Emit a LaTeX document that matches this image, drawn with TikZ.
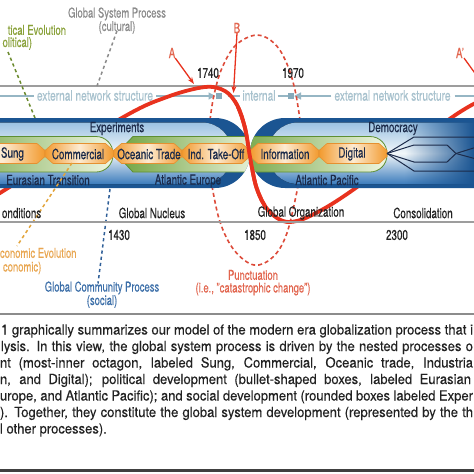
\documentclass[tikz,border=0pt]{standalone}
\usepackage{fontspec}
\setmainfont{TeX Gyre Heros}[FakeStretch=0.7, FakeBold=0.3]
\newfontfamily\capfont{TeX Gyre Heros}[FakeStretch=0.93, FakeBold=0.3]
\usetikzlibrary{arrows.meta,fadings}
\definecolor{bdark}{HTML}{1B5592}
\definecolor{bmid}{HTML}{9CC2E2}
\definecolor{bmidb}{HTML}{3C7CBC}
\definecolor{blight}{HTML}{F2F7FA}
\definecolor{gdark}{HTML}{6FA23E}
\definecolor{glight}{HTML}{EEF5E0}
\definecolor{gline}{HTML}{5E8F32}
\definecolor{oor}{HTML}{F29A2E}
\definecolor{ocr}{HTML}{FDEBD2}
\definecolor{oline}{HTML}{E59030}
\definecolor{navy}{HTML}{1C2B4A}
\definecolor{redA}{HTML}{E8321E}
\definecolor{redD}{HTML}{DD4B3A}
\definecolor{redT}{HTML}{E2654E}
\definecolor{netc}{HTML}{A8C2CE}
\definecolor{netl}{HTML}{96B6C4}
\definecolor{netsq}{HTML}{86AABB}
\definecolor{grayT}{HTML}{8C8C8C}
\definecolor{polc}{HTML}{8AA23A}
\definecolor{polline}{HTML}{6B8A2E}
\definecolor{ecoc}{HTML}{E9A650}
\definecolor{ecoline}{HTML}{E3A43A}
\definecolor{comc}{HTML}{3B6EA8}
\definecolor{comline}{HTML}{2F5F98}
\definecolor{txt}{HTML}{222222}
\tikzfading[name=fadeR, left color=transparent!100, right color=transparent!0]
\newcommand\myocta[3]{%
  \path[#3] (#1,150.5) -- ({#1+8},143.5) -- ({#2-8},143.5) -- (#2,150.5) -- (#2,156.5) -- ({#2-8},163.5) -- ({#1+8},163.5) -- (#1,156.5) -- cycle;}
\begin{document}
\begin{tikzpicture}[x=1pt,y=-1pt,
  every node/.style={inner sep=0pt, outer sep=0pt},
  bandlbl/.style={font=\fontsize{14}{15}\selectfont, text=navy},
  octlbl/.style={font=\fontsize{14}{15}\selectfont, text=navy},
  tl/.style={font=\fontsize{14}{15}\selectfont, text=txt},
  net/.style={font=\fontsize{14.5}{15}\selectfont, text=netc},
  netline/.style={draw=netl, line width=1.1pt},
  sq/.style={fill=netsq, minimum size=6pt},
  callout/.style={font=\fontsize{13.5}{15}\selectfont, align=center},
  cdash/.style={line width=1.5pt, dash pattern=on 3.2pt off 3pt},
  rdash/.style={draw=redD, line width=1.6pt, dash pattern=on 4pt off 3pt},
  redthick/.style={draw=redA, line width=3.8pt, line cap=round},
  redthin/.style={draw=redA, line width=1.3pt},
  fan/.style={draw=navy, line width=1pt, line join=round},
  captxt/.style={font=\capfont\fontsize{14}{16}\selectfont, text=txt, anchor=base west}]
\useasboundingbox (0,0) rectangle (474,474);
\clip (0,0) rectangle (474,474);
\fill[white] (0,0) rectangle (474,474);

% top line and network structure
\draw[grayT!85, line width=2.2pt] (0,86) -- (474,86);
\node[net] (ext1) at (95,95.5) {external network structure};
\node[net] (int) at (259,95.5) {internal};
\node[net] (ext2) at (392.5,95.5) {external network structure};
\node[sq] (s1) at (218.5,96) {};
\node[sq] (s2) at (291,96) {};
\coordinate (nL) at (0,96);
\coordinate (nR) at (474,96);
\coordinate (iL) at (228,96);
\draw[netline] (nL) -- ([xshift=-3pt]ext1.west |- nL);
\draw[netline, -{Triangle[length=7pt,width=7pt]}] ([xshift=3pt]ext1.east |- nL) -- (s1.west);
\draw[netline] (iL) -- ([xshift=-2pt]int.west |- iL);
\draw[netline] ([xshift=2pt]int.east |- iL) -- (s2.west);
\draw[netline, -{Triangle[length=7pt,width=7pt]}] ([xshift=-3pt]ext2.west |- nR) -- (s2.east);
\draw[netline] ([xshift=4pt]ext2.east |- nR) -- (nR);

% callouts (behind band)
\node[callout, text=grayT] (gsp1) at (117,14) {Global System Process};
\node[callout, text=grayT] (gsp2) at (117,27.5) {(cultural)};
\coordinate (gspE) at (97,86);
\draw[cdash, draw=grayT] ([yshift=3pt]gsp2.south) -- (gspE);
\node[callout, text=polc, anchor=east] (pol1) at (66,30) {tical Evolution};
\node[callout, text=polc, anchor=east] (pol2) at (32,43.5) {olitical)};
\coordinate (polS) at (8,52);
\coordinate (polE) at (35,118);
\draw[cdash, draw=polline] (polS) -- (polE);

% red dashed punctuation arcs
\draw[rdash] plot[smooth, tension=0.6] coordinates {(210,120) (214,95) (222,68) (236,45) (257,35) (275,44) (287,64) (295,90) (300,120)};
\draw[rdash] plot[smooth, tension=0.6] coordinates {(212,186) (220,222) (234,250) (254,265) (273,257) (287,233) (298,186)};

% thick red line (behind band)
\def\redpath{plot[smooth, tension=0.55] coordinates {(-8,198) (120,119) (167,97) (205,87) (225,91) (237,105) (245,128) (250,157) (256,186) (265,206) (277,218) (290,222) (310,216) (350,192) (451,118) (482,100)}}
\draw[redthick] \redpath;

% blue bullets
\fill[bdark, rounded corners=35pt] (-80,118) rectangle (250,188);
\fill[bdark, rounded corners=35pt] (250,118) rectangle (560,188);
\fill[rounded corners=30pt, top color=bmid, bottom color=bmidb, middle color=blight] (-80,122.5) rectangle (232,184);
\fill[rounded corners=30pt, top color=bmid, bottom color=bmidb, middle color=blight] (268,122.5) rectangle (560,184);
\fill[bdark, path fading=fadeR] (405,119) rectangle (474,187);

% green boxes
\path[rounded corners=17pt, left color=gdark, right color=glight, draw=gline, line width=0.8pt] (-60,136.5) rectangle (113,172);
\begin{scope}
  \clip[rounded corners=35pt] (-80,118) rectangle (250,188);
  \path[left color=gdark, right color=glight, draw=gline, line width=0.8pt] (116,154) -- (133,136.5) -- (262,136.5) -- (262,172) -- (133,172) -- cycle;
\end{scope}
\begin{scope}
  \clip[rounded corners=35pt] (250,118) rectangle (560,188);
  \path[rounded corners=17pt, left color=gdark, right color=glight, draw=gline, line width=0.8pt] (230,136.5) rectangle (387,172);
\end{scope}

% orange octagons
\myocta{-40}{45}{left color=ocr, right color=oor, middle color=ocr, draw=oline, line width=0.6pt}
\myocta{45}{113.5}{left color=oor, right color=oor, middle color=ocr, draw=oline, line width=0.6pt}
\myocta{113.5}{182}{left color=oor, right color=oor, middle color=ocr, draw=oline, line width=0.6pt}
\myocta{182}{250}{left color=oor, right color=oor, middle color=ocr, draw=oline, line width=0.6pt}
\myocta{250}{319}{left color=oor, right color=oor, middle color=ocr, draw=oline, line width=0.6pt}
\myocta{319}{387}{left color=oor, right color=oor, middle color=ocr, draw=oline, line width=0.6pt}
\node[octlbl, anchor=west] (sung) at (1,154) {Sung};
\node[octlbl] (comm) at (78,154) {Commercial};
\node[octlbl] (ocea) at (149,154) {Oceanic Trade};
\node[octlbl] (indt) at (216,154) {Ind. Take-Off};
\node[octlbl] (info) at (285,154) {Information};
\node[octlbl] (digi) at (352,154) {Digital};

% band labels
\node[bandlbl] (exp) at (117,128.5) {Experiments};
\node[bandlbl] (eur) at (48,180) {Eurasian Transition};
\node[bandlbl] (ateu) at (188,181) {Atlantic Europe};
\node[bandlbl] (dem) at (393,128.5) {Democracy};
\node[bandlbl] (atpa) at (327,180) {Atlantic Pacific};

% fan lines
\coordinate (fa) at (387,153.5);
\coordinate (fx) at (456,153.5);
\draw[fan] (fa) -- (414,137) -- (480,137);
\draw[fan] (fa) -- (414,145) -- (447,145) -- (fx) -- (480,160);
\draw[fan] (fa) -- (414,162) -- (447,162) -- (fx) -- (480,146);
\draw[fan] (fa) -- (414,171) -- (480,171);

% economic and community callouts
\node[callout, text=ecoc, anchor=west] (eco1) at (0,253) {conomic Evolution};
\node[callout, text=ecoc, anchor=west] (eco2) at (3,268) {conomic)};
\coordinate (ecoS) at (72,163);
\coordinate (ecoE) at (17,246);
\draw[cdash, draw=ecoline] (ecoS) -- (ecoE);
\node[callout, text=comc] (com1) at (102,288) {Global Community Process};
\node[callout, text=comc] (com2) at (102,301.5) {(social)};
\coordinate (comS) at (110,189);
\draw[cdash, draw=comline] (comS) -- ([yshift=-2pt]com1.north -| 98,0);

% red over the pinch
\begin{scope}
  \clip (236,100) rectangle (266,212);
  \draw[redthick] \redpath;
\end{scope}

% red labels and arrows
\node[text=redT, font=\fontsize{14}{15}\selectfont] (lA) at (172,53) {A};
\coordinate (tA) at (194,84);
\draw[redthin, -{Stealth[length=7pt,width=5pt]}] (lA.south east) -- (tA);
\node[text=redT, font=\fontsize{14}{15}\selectfont] (lB) at (237,28) {B};
\coordinate (tB) at (233.5,93);
\draw[redthin, -{Stealth[length=7pt,width=5pt]}] (lB.south) -- (tB);
\node[text=redT, font=\fontsize{14}{15}\selectfont] (lA2) at (460,53) {A'};
\coordinate (tA2) at (477,76);
\draw[redthin] (lA2.south east) -- (tA2);
\node[callout, text=redT] (pun1) at (253,275) {Punctuation};
\node[callout, text=redT] (pun2) at (253,289) {(i.e., "catastrophic change")};

% years on top
\node[tl] (y1740) at (208,73) {1740};
\node[tl] (y1970) at (293,73) {1970};

% timeline
\draw[grayT!85, line width=2.2pt] (0,222) -- (474,222);
\node[tl, anchor=west] (cond) at (2,213) {onditions};
\node[tl] (gnuc) at (152,213) {Global Nucleus};
\node[tl] (gorg) at (301,213) {Global Organization};
\node[tl] (cons) at (423,213) {Consolidation};
\node[tl] (y1430) at (119,235) {1430};
\node[tl] (y1850) at (255,235) {1850};
\node[tl] (y2300) at (397,235) {2300};

% caption
\draw[grayT, line width=2pt] (0,314) -- (474,314);
\draw[black!75, line width=2.5pt] (0,470.5) -- (474,470.5);
\node[captxt] (c1) at (1,334.5) {\makebox[472pt][s]{1 graphically summarizes our model of the modern era globalization process that i}};
\node[captxt] (c2) at (1,351) {\makebox[472pt][s]{lysis. In this view, the global system process is driven by the nested processes o}};
\node[captxt] (c3) at (0,367.5) {\makebox[473pt][s]{nt (most-inner octagon, labeled Sung, Commercial, Oceanic trade, Industria}};
\node[captxt] (c4) at (0,384) {\makebox[471pt][s]{n, and Digital); political development (bullet-shaped boxes, labeled Eurasian}};
\node[captxt] (c5) at (0,400.5) {\makebox[473pt][s]{urope, and Atlantic Pacific); and social development (rounded boxes labeled Exper}};
\node[captxt] (c6) at (0,417) {\makebox[473pt][s]{). Together, they constitute the global system development (represented by the th}};
\node[captxt] (c7) at (0,433.5) {l other processes).};
\end{tikzpicture}
\end{document}
